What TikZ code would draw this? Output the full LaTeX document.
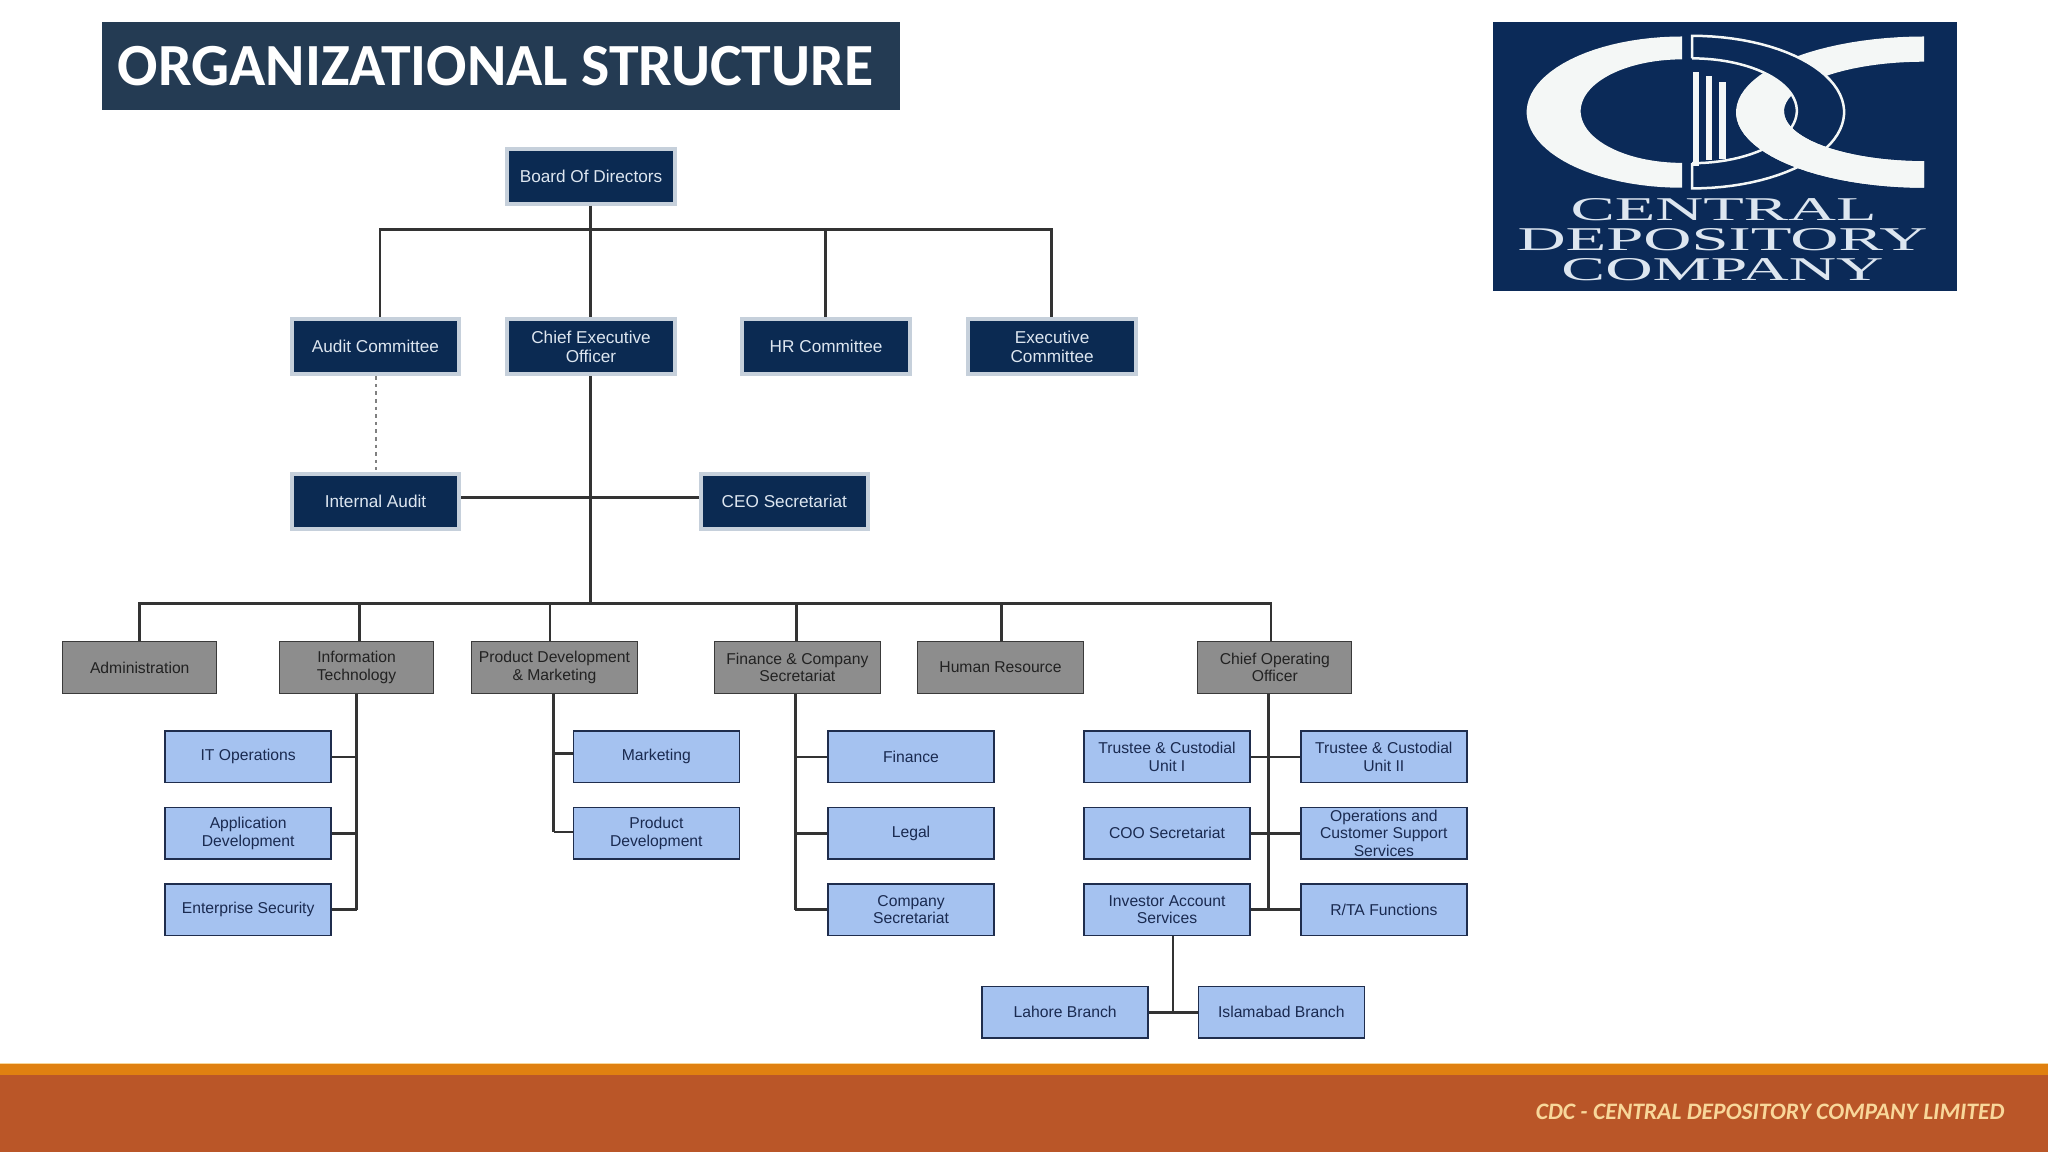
\documentclass[tikz,border=0pt]{standalone}
\usepackage{fontspec}
\setmainfont{Liberation Sans}
\newfontfamily\carlito{Carlito}
\newfontfamily\logoserif{Liberation Serif}
\definecolor{navy}{HTML}{0B2A52}
\definecolor{navyedge}{HTML}{C6D0DB}
\definecolor{navytext}{HTML}{DDE6F0}
\definecolor{greybox}{HTML}{8D8D8D}
\definecolor{greyedge}{HTML}{3A3A3A}
\definecolor{greytext}{HTML}{222222}
\definecolor{bluebox}{HTML}{A5C2F0}
\definecolor{blueedge}{HTML}{1F2D4D}
\definecolor{bluetext}{HTML}{1A2A50}
\definecolor{wire}{HTML}{333333}
\definecolor{titlebg}{HTML}{243B53}
\definecolor{logobg}{HTML}{0B2A58}
\definecolor{logofg}{HTML}{F4F7F6}
\definecolor{barorange}{HTML}{E08010}
\definecolor{rust}{HTML}{BA5628}
\definecolor{foottext}{HTML}{F8D79A}
\tikzset{
  navybox/.style={draw=navyedge,line width=2pt,fill=navy,text=navytext,inner sep=0pt,
    minimum width=83.8pt,minimum height=27.4pt,align=center,
    font=\fontsize{8.6}{9.8}\selectfont},
  greyunit/.style={draw=greyedge,line width=.7pt,fill=greybox,text=greytext,inner sep=0pt,
    minimum width=#1,minimum height=26pt,align=center,
    font=\fontsize{7.85}{8.8}\selectfont},
  blueunit/.style={draw=blueedge,line width=.7pt,fill=bluebox,text=bluetext,inner sep=0pt,
    minimum width=83pt,minimum height=25.8pt,align=center,
    font=\fontsize{7.85}{8.8}\selectfont},
  wirebold/.style={draw=wire,line width=1.5pt,line cap=rect},
  wirethin/.style={draw=wire,line width=1.35pt},
  dotlink/.style={draw=gray,line width=1.1pt,dash pattern=on 1.8pt off 2pt},
  logoline/.style={draw=logofg,line width=1.25pt},
  logotext/.style={text=navytext,inner sep=0pt,font=\logoserif},
  ell/.style={domain=#1,samples=48},
}
\begin{document}
\begin{tikzpicture}[x=0.653061pt,y=-0.653061pt]
\useasboundingbox (0,0) rectangle (1568,882);
\fill[white] (0,0) rectangle (1568,882);
% title
\fill[titlebg] (78,17) rectangle (689,84);
\node[anchor=west,text=white,inner sep=0pt,
  font=\carlito\bfseries\fontsize{29.9}{30}\selectfont] (title) at (90,50.5) {ORGANIZATIONAL STRUCTURE};
% logo
\fill[logobg] (1143,17) rectangle (1498,223);
\begin{scope}[shift={(1118.4,0.24)},x=0.16887pt,y=-0.16586pt]
  \fill[logofg] plot[ell=90:270] ({655+460*cos(\x)},{337-228*sin(\x)}) -- plot[ell=270:90] ({655+300*cos(\x)},{334-156*sin(\x)}) -- cycle;
  \fill[logofg] plot[ell=90:270] ({1372+557*cos(\x)},{337-228*sin(\x)}) -- plot[ell=270:90] ({1372+415*cos(\x)},{335-150*sin(\x)}) -- cycle;
  \fill[logobg] plot[ell=90:0] ({685+450*cos(\x)},{337-230*sin(\x)}) -- plot[ell=0:90] ({685+310*cos(\x)},{333-158*sin(\x)}) -- cycle;
  \draw[logoline] (685,491) -- (685,567) -- plot[ell=-90:90] ({685+450*cos(\x)},{337-230*sin(\x)}) -- (685,175);
  \draw[logoline] plot[ell=90:-90] ({685+310*cos(\x)},{333-158*sin(\x)});
  \begin{scope}
    \clip (600,335) rectangle (1400,600);
    \fill[logofg] plot[ell=90:270] ({1372+557*cos(\x)},{337-228*sin(\x)}) -- plot[ell=270:90] ({1372+415*cos(\x)},{335-150*sin(\x)}) -- cycle;
  \end{scope}
  \fill[logofg] (688,215) rectangle (704,500);
  \fill[logofg] (725,228) rectangle (745,482);
  \fill[logofg] (765,245) rectangle (785,478);
  \node[logotext] (logoa) at (778,632) {\resizebox{153pt}{11pt}{CENTRAL}};
  \node[logotext] (logob) at (775,720) {\resizebox{205pt}{11pt}{DEPOSITORY}};
  \node[logotext] (logoc) at (775,812) {\resizebox{161pt}{11pt}{COMPANY}};
\end{scope}
% top tier
\node[navybox] (board) at (452.5,135) {Board Of Directors};
\node[navybox] (audit) at (287.5,265.5) {Audit Committee};
\node[navybox] (ceo) at (452.5,265.5) {Chief Executive\\Officer};
\node[navybox] (hrc) at (632.5,265.5) {HR Committee};
\node[navybox] (exec) at (805.5,265.5) {Executive\\Committee};
\node[navybox] (iaudit) at (287.5,384) {Internal Audit};
\node[navybox] (ceosec) at (600.5,384) {CEO Secretariat};
% grey tier
\node[greyunit=77pt] (admin) at (107,511) {Administration};
\node[greyunit=77pt] (it) at (273,511) {Information\\Technology};
\node[greyunit=83pt] (pdm) at (424.5,511) {Product Development\\\& Marketing};
\node[greyunit=83pt] (fcs) at (610.5,511) {Finance \& Company\\Secretariat};
\node[greyunit=83pt] (hr) at (766,511) {Human Resource};
\node[greyunit=77pt] (coo) at (976,511) {Chief Operating\\Officer};
% blue tier
\node[blueunit] (itops) at (190,579.5) {IT Operations};
\node[blueunit] (appdev) at (190,638) {Application\\Development};
\node[blueunit] (entsec) at (190,696.5) {Enterprise Security};
\node[blueunit] (mkt) at (502.5,579.5) {Marketing};
\node[blueunit] (proddev) at (502.5,638) {Product\\Development};
\node[blueunit] (fin) at (697.5,579.5) {Finance};
\node[blueunit] (legal) at (697.5,638) {Legal};
\node[blueunit] (compsec) at (697.5,696.5) {Company\\Secretariat};
\node[blueunit] (tcone) at (893.5,579.5) {Trustee \& Custodial\\Unit I};
\node[blueunit] (coosec) at (893.5,638) {COO Secretariat};
\node[blueunit] (invest) at (893.5,696.5) {Investor Account\\Services};
\node[blueunit] (tctwo) at (1059.5,579.5) {Trustee \& Custodial\\Unit II};
\node[blueunit] (opscs) at (1059.5,638) {Operations and\\Customer Support\\Services};
\node[blueunit] (rta) at (1059.5,696.5) {R/TA Functions};
\node[blueunit] (lahore) at (815.5,775) {Lahore Branch};
\node[blueunit] (isb) at (981,775) {Islamabad Branch};
% connector junctions
\coordinate (busa) at (291,176);
\coordinate (busb) at (452,176);
\coordinate (busc) at (632,176);
\coordinate (busd) at (805,176);
\coordinate (midj) at (452,381);
\coordinate (lowj) at (452,462);
\coordinate (la) at (107,462);
\coordinate (lb) at (275,462);
\coordinate (lc) at (421,462);
\coordinate (ld) at (610,462);
\coordinate (le) at (767,462);
\coordinate (lf) at (973,462);
\coordinate (itend) at (273,697);
\coordinate (pdend) at (424,637);
\coordinate (pdtop) at (424,577);
\coordinate (finend) at (609,697);
\coordinate (cooend) at (971,697);
\coordinate (invj) at (898,775);
\coordinate (dotop) at (288,288);
\coordinate (dotbot) at (288,360);
% connectors
\draw[wirebold] (busa) -- (busd);
\draw[wirethin] (busb |- board.south) -- (busb);
\draw[wirethin] (busa) -- (busa |- audit.north);
\draw[wirethin] (busb) -- (busb |- ceo.north);
\draw[wirethin] (busc) -- (busc |- hrc.north);
\draw[wirethin] (busd) -- (busd |- exec.north);
\draw[wirethin] (midj |- ceo.south) -- (lowj);
\draw[wirethin] (iaudit.east |- midj) -- (ceosec.west |- midj);
\draw[dotlink] (dotop) -- (dotbot);
\draw[wirebold] (la) -- (lf);
\draw[wirethin] (la) -- (la |- admin.north);
\draw[wirethin] (lb) -- (lb |- it.north);
\draw[wirethin] (lc) -- (lc |- pdm.north);
\draw[wirethin] (ld) -- (ld |- fcs.north);
\draw[wirethin] (le) -- (le |- hr.north);
\draw[wirethin] (lf) -- (lf |- coo.north);
\draw[wirethin] (itend |- it.south) -- (itend);
\draw[wirethin] (itops.east) -- (itend |- itops.east);
\draw[wirethin] (appdev.east) -- (itend |- appdev.east);
\draw[wirethin] (entsec.east) -- (itend |- entsec.east);
\draw[wirethin] (pdend |- pdm.south) -- (pdend);
\draw[wirethin] (pdtop) -- (mkt.west |- pdtop);
\draw[wirethin] (pdend) -- (proddev.west |- pdend);
\draw[wirethin] (finend |- fcs.south) -- (finend);
\draw[wirethin] (finend |- fin.west) -- (fin.west);
\draw[wirethin] (finend |- legal.west) -- (legal.west);
\draw[wirethin] (finend |- compsec.west) -- (compsec.west);
\draw[wirethin] (cooend |- coo.south) -- (cooend);
\draw[wirethin] (tcone.east) -- (tctwo.west);
\draw[wirethin] (coosec.east) -- (opscs.west);
\draw[wirethin] (invest.east) -- (rta.west);
\draw[wirethin] (invj |- invest.south) -- (invj);
\draw[wirethin] (lahore.east) -- (isb.west);
% footer
\fill[barorange] (0,814) rectangle (1568,823);
\draw[line width=.4pt,draw=foottext] (0,814) -- (1568,814) (0,823) -- (1568,823);
\fill[rust] (0,823.3) rectangle (1568,882);
\node[anchor=east,inner sep=0pt,text=foottext,font=\carlito\bfseries\itshape\fontsize{11.8}{14}\selectfont] (foot) at (1535,851) {CDC - CENTRAL DEPOSITORY COMPANY LIMITED};
\end{tikzpicture}
\end{document}
